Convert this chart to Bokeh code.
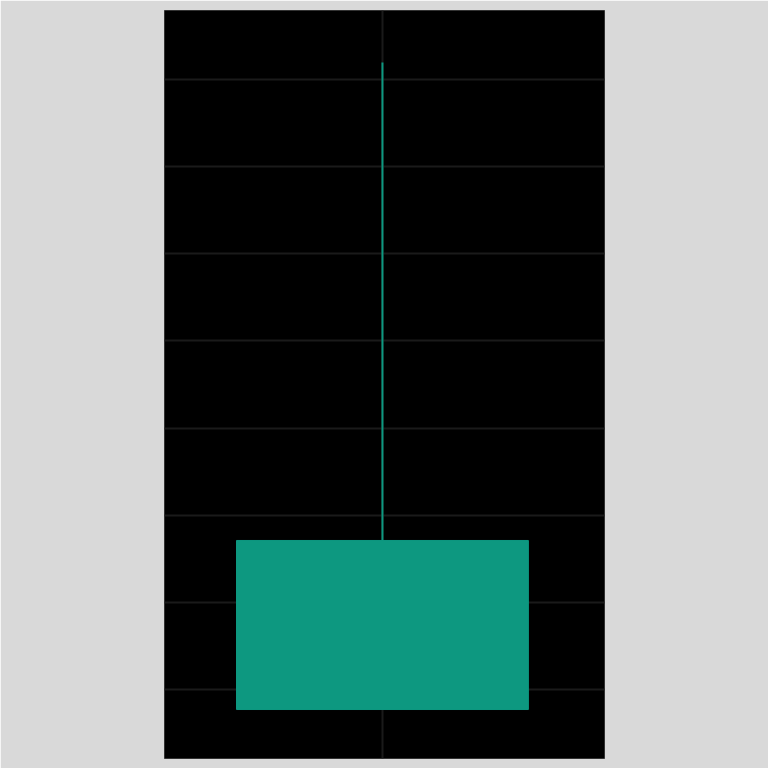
from bokeh.plotting import figure
from bokeh.models import FixedTicker, Range1d
from bokeh.embed import file_html
from bokeh.resources import INLINE

# data
x = [1]
open_ = [7.7]
close = [27.1]
high = [81.95]
low = [7.7]
y_ticks = [10, 20, 30, 40, 50, 60, 70, 80]

p = figure(width=768, height=768, output_backend="svg", toolbar_location=None,
           x_range=Range1d(0.257, 1.757), y_range=Range1d(2.08, 87.92),
           x_axis_location=None, y_axis_location=None,
           min_border_left=164, min_border_right=164, min_border_top=10, min_border_bottom=10)
p.background_fill_color = "black"
p.border_fill_color = "#d9d9d9"
p.outline_line_color = "#333333"
p.xgrid.ticker = FixedTicker(ticks=[1])
p.ygrid.ticker = FixedTicker(ticks=y_ticks)
p.grid.grid_line_color = "#1a1a1a"
p.grid.grid_line_width = 2

col = "#0d9880"
p.segment(x0=x, y0=high, x1=x, y1=[max(o, c) for o, c in zip(open_, close)], color=col, line_width=2)
p.segment(x0=x, y0=low, x1=x, y1=[min(o, c) for o, c in zip(open_, close)], color=col, line_width=2)
p.vbar(x=x, width=0.995, top=close, bottom=open_, fill_color=col, line_color=col)

html = file_html(p, INLINE)
open("out.html", "w").write(html)
